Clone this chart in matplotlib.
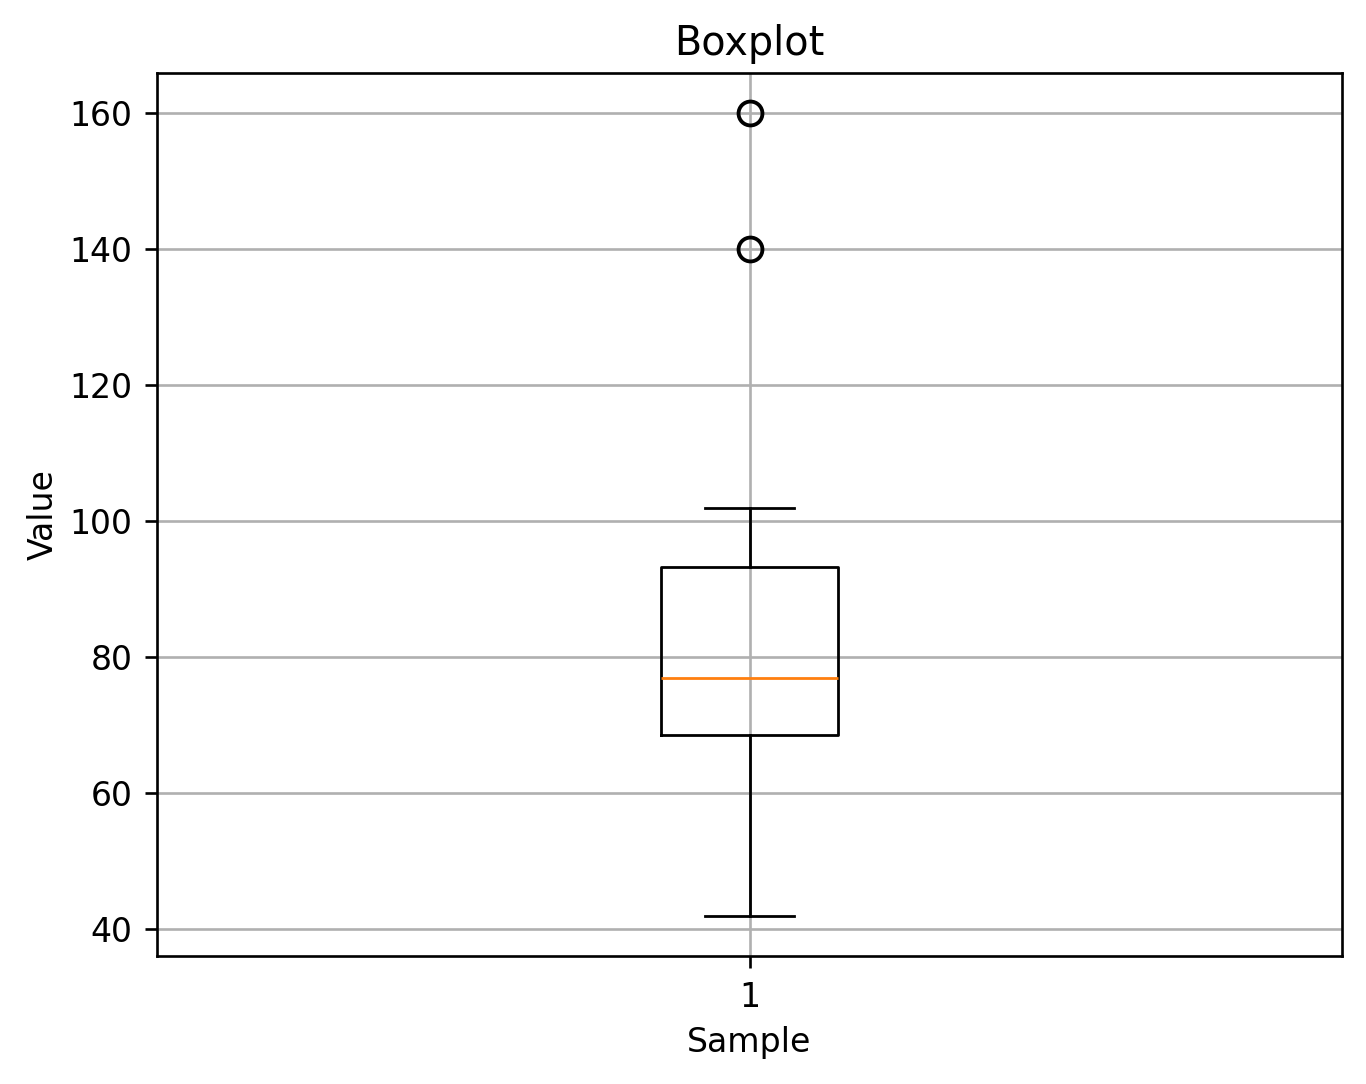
import matplotlib
matplotlib.use("Agg")
import matplotlib.pyplot as plt

# Box statistics
labels = ["1"]
medians = [77.0]
q1s = [68.6]
q3s = [93.3]
whislos = [42.0]
whishis = [102.0]
fliers = [[140.0, 160.0]]

DPI = 200
scale = 239 / DPI
plt.rcParams.update({
    "font.size": 10 * scale,
    "lines.linewidth": 1.0 * scale,
    "axes.linewidth": 0.8 * scale,
    "xtick.major.width": 0.8 * scale,
    "ytick.major.width": 0.8 * scale,
    "xtick.major.size": 3.5 * scale,
    "ytick.major.size": 3.5 * scale,
    "xtick.major.pad": 4.0 * scale,
    "ytick.major.pad": 3.8 * scale,
    "grid.linewidth": 0.8 * scale,
})

fig = plt.figure(figsize=(1366 / DPI, 1084 / DPI), dpi=DPI)
ax = fig.add_axes([157 / 1366, 1 - 956 / 1084, (1342 - 157) / 1366, (956 - 73) / 1084])

stats = []
for lab, m, a, b, lo, hi, fl in zip(labels, medians, q1s, q3s, whislos, whishis, fliers):
    stats.append(dict(label=lab, med=m, q1=a, q3=b, whislo=lo, whishi=hi, fliers=fl))

ax.bxp(stats, flierprops=dict(marker="o", markersize=7.2 * scale,
                               markeredgewidth=1.15 * scale,
                               markerfacecolor="none", markeredgecolor="black"))
ax.set_title("Boxplot", pad=5.5 * scale)
ax.set_xlabel("Sample", labelpad=3.6 * scale)
ax.set_ylabel("Value", labelpad=3 * scale)
ax.grid(True)

fig.savefig("out.png", dpi=DPI)
